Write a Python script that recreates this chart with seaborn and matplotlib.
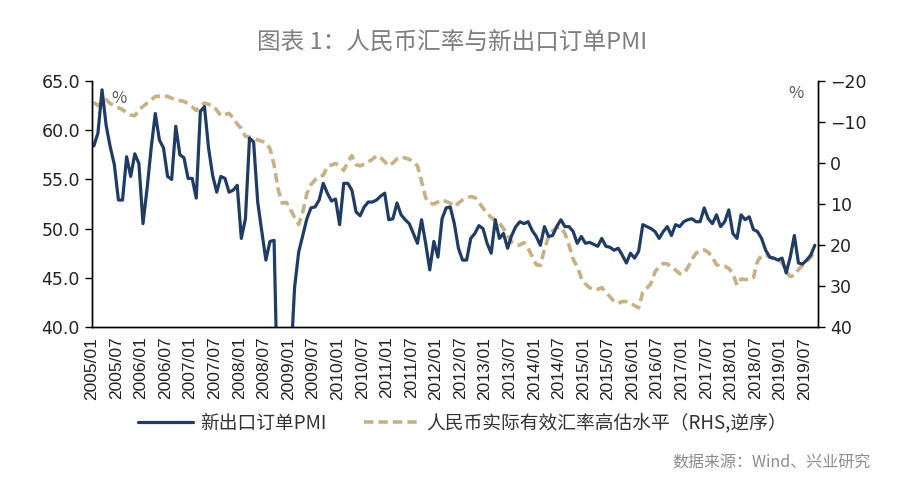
import matplotlib
matplotlib.use("Agg")
import matplotlib.pyplot as plt
import seaborn as sns
import pandas as pd
import numpy as np

sns.set_style("white")
plt.rcParams['font.family'] = ['Noto Sans CJK SC', 'DejaVu Sans']

# 月份 2005/01 - 2019/09
months = pd.date_range("2005-01-01", "2019-09-01", freq="MS").strftime("%Y/%m").tolist()

# 新出口订单PMI (左轴)
pmi = [58.4, 59.7, 64.1, 60.5, 58.3, 56.5, 52.9, 52.9, 57.3, 55.3,
       57.6, 56.6, 50.5, 54.1, 58.2, 61.7, 59.0, 58.2, 55.3, 55.0,
       60.4, 57.5, 57.2, 55.1, 55.1, 53.1, 61.9, 62.4, 58.2, 55.4,
       53.7, 55.3, 55.1, 53.7, 53.9, 54.4, 49.0, 51.0, 59.2, 58.8,
       52.7, 49.7, 46.8, 48.7, 48.8, 30.0, 29.0, 33.7, 36.0, 44.0,
       47.6, 49.3, 51.0, 52.1, 52.2, 52.9, 54.6, 53.6, 52.8, 53.0,
       50.4, 54.6, 54.6, 53.9, 51.7, 51.3, 52.2, 52.7, 52.7, 52.9,
       53.3, 53.6, 50.9, 51.0, 52.6, 51.4, 50.9, 50.5, 49.5, 48.5,
       50.9, 48.5, 45.8, 48.7, 47.1, 51.0, 52.1, 52.2, 50.5, 48.0,
       46.8, 46.8, 49.0, 49.5, 50.3, 50.0, 48.5, 47.5, 50.9, 49.0,
       49.5, 48.0, 49.3, 50.2, 50.7, 50.5, 50.7, 49.8, 49.2, 48.3,
       50.2, 49.2, 49.3, 50.2, 50.9, 50.2, 50.2, 49.7, 48.5, 49.2,
       48.5, 48.6, 48.4, 48.2, 49.0, 48.2, 48.1, 47.8, 48.0, 47.3,
       46.5, 47.5, 47.0, 47.7, 50.4, 50.2, 50.0, 49.7, 49.0, 49.7,
       50.2, 49.3, 50.4, 50.2, 50.7, 50.9, 51.0, 50.7, 50.7, 52.1,
       51.0, 50.5, 51.4, 50.2, 50.7, 51.9, 49.5, 49.0, 51.4, 50.9,
       51.2, 49.9, 49.7, 49.0, 47.8, 47.1, 47.0, 46.8, 47.0, 45.5,
       47.1, 49.3, 46.5, 46.4, 46.8, 47.3, 48.3]

# 人民币实际有效汇率高估水平 (右轴, 逆序)
reer = [-14.8, -14.0, -14.8, -15.4, -14.5, -14.0, -13.5, -13.0, -12.3, -11.7,
        -11.5, -13.0, -13.8, -14.6, -15.4, -16.2, -16.3, -16.4, -16.2, -15.8,
        -15.4, -15.2, -15.0, -14.5, -13.7, -12.8, -13.8, -14.6, -14.3, -14.0,
        -12.9, -11.5, -11.8, -12.1, -11.0, -9.5, -8.4, -6.5, -6.3, -6.2,
        -5.6, -5.3, -5.0, -3.5, 0.5, 6.5, 9.8, 9.6, 11.3, 13.3,
        15.0, 12.0, 7.5, 5.3, 4.1, 3.3, 3.0, 0.9, 0.5, 0.1,
        0.8, 1.8, -0.3, -1.8, 0.4, 0.7, 0.3, -0.3, -0.9, -1.8,
        -1.3, -0.3, 0.7, 0.0, -1.0, -1.5, -1.2, -0.9, -0.2, 0.7,
        4.5, 8.5, 9.8, 10.0, 9.5, 9.0, 9.4, 9.8, 10.6, 9.8,
        9.0, 8.6, 8.2, 8.4, 9.6, 11.0, 12.2, 13.3, 14.0, 14.6,
        16.0, 17.7, 19.3, 20.0, 20.0, 19.4, 20.8, 22.8, 24.8, 25.0,
        21.0, 18.0, 16.5, 15.8, 15.6, 17.2, 20.0, 23.5, 25.3, 28.0,
        29.5, 30.4, 31.0, 30.8, 30.4, 31.6, 32.6, 33.8, 34.2, 33.8,
        33.8, 34.2, 34.8, 35.3, 31.5, 30.5, 29.4, 26.5, 25.3, 24.5,
        24.6, 25.4, 26.1, 27.0, 27.0, 25.5, 23.5, 22.0, 21.4, 21.2,
        21.8, 23.0, 24.8, 25.2, 25.2, 25.7, 27.0, 29.8, 28.3, 28.4,
        28.5, 28.0, 24.0, 22.6, 22.4, 23.0, 23.4, 23.7, 24.3, 26.5,
        27.7, 27.4, 26.0, 25.0, 24.0, 23.0, 21.5]

df = pd.DataFrame({"idx": np.arange(len(months)), "month": months, "pmi": pmi, "reer": reer})

navy = "#1f3d64"
tan = "#c6b185"

fig = plt.figure(figsize=(9, 4.82), dpi=100)
ax = fig.add_axes([0.102, 0.3216, 0.807, 0.5104])
ax2 = ax.twinx()

sns.lineplot(data=df, x="idx", y="reer", ax=ax2, color=tan, linewidth=2.6,
             label="人民币实际有效汇率高估水平（RHS,逆序）", legend=False)
ax2.lines[0].set_dashes((2.6, 1.4))
sns.lineplot(data=df, x="idx", y="pmi", ax=ax, color=navy, linewidth=2.3,
             label="新出口订单PMI", legend=False)

# PMI drawn above the dashed line
ax.set_zorder(ax2.get_zorder() + 1)
ax.patch.set_visible(False)

ax.set_ylim(40, 65)
ax.set_yticks(np.arange(40, 65.1, 5))
ax.set_yticklabels([f"{v:.1f}" for v in np.arange(40, 65.1, 5)], family="DejaVu Sans")
ax2.set_ylim(40, -20)
ax2.set_yticks(np.arange(-20, 41, 10))
ax2.set_yticklabels([f"{v}".replace("-", "\u2212") for v in range(-20, 41, 10)], family="DejaVu Sans")

ticks = np.arange(0, len(months), 6)
ax.set_xlim(-0.5, 176.8)
ax.set_xticks(ticks - 0.5)
ax.set_xticklabels([months[i] for i in ticks], rotation=90, family="Liberation Sans")

for a in (ax, ax2):
    a.set_xlabel("")
    a.set_ylabel("")
    for s in a.spines.values():
        s.set_color("black")
        s.set_linewidth(1.0)
    a.spines["top"].set_visible(False)
    a.tick_params(direction="out", length=5, width=1, color="black", labelsize=12.5, labelcolor="#222222")
ax.tick_params(axis="x", labelsize=12.5, pad=2)

ax.text(0.037, 0.93, "%", transform=ax.transAxes, fontsize=12, color="#555555", ha="center", va="center")
ax.text(0.97, 0.95, "%", transform=ax.transAxes, fontsize=12, color="#555555", ha="center", va="center")

fig.text(0.502, 0.912, "图表 1：人民币汇率与新出口订单PMI", ha="center", va="center",
         fontsize=17, color="#7f7f7f", fontweight="medium")

h1, l1 = ax.get_legend_handles_labels()
h2, l2 = ax2.get_legend_handles_labels()
fig.legend(h1 + h2, l1 + l2, loc="center", bbox_to_anchor=(0.514, 0.122), ncol=2,
           frameon=False, fontsize=13.5, handlelength=2.9, handletextpad=0.4, columnspacing=2.0,
           labelcolor="#333333")

fig.text(0.967, 0.04, "数据来源：Wind、兴业研究", ha="right", va="center", fontsize=11.5, color="#8c8c8c")

fig.savefig("out.png", dpi=100)
